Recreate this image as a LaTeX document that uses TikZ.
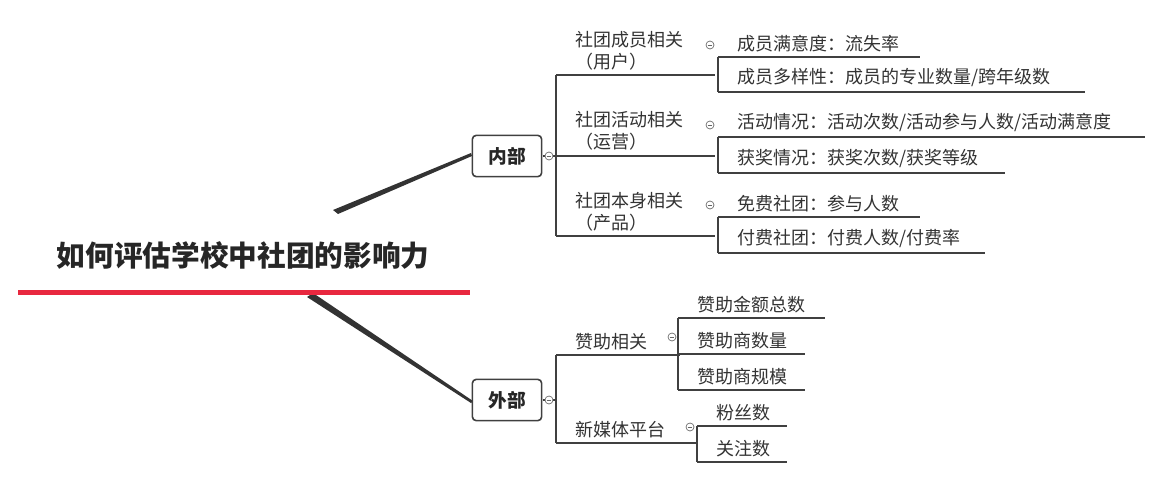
\documentclass[tikz,border=0pt]{standalone}
\usepackage{fontspec}
\setmainfont{Noto Sans CJK SC}
\definecolor{rootred}{HTML}{E8283F}
\begin{document}
\begin{tikzpicture}[x=0.75pt,y=-0.75pt,
  lf/.style={anchor=south west,inner sep=0pt,font=\fontsize{13.5}{16}\selectfont,text=black!80},
  ln/.style={draw=black!75,line width=0.8pt},
  dot/.style={circle,draw=black!60,fill=white,inner sep=0pt,minimum size=6pt,line width=0.5pt,
    path picture={\draw[black!60,line width=0.5pt] ([xshift=-1.8pt]path picture bounding box.center) -- ([xshift=1.8pt]path picture bounding box.center);}},
  box/.style={draw=black!75,line width=1.2pt,rounded corners=3pt,minimum width=52pt,minimum height=31pt,font=\fontsize{14}{16}\selectfont\bfseries,text=black!85}]
\useasboundingbox (0,0) rectangle (1163,478);
% root
\fill[black!80] (333,210) -- (338,214) -- (472,156) -- (471,153) -- cycle;
\fill[black!80] (307,297) -- (313,293) -- (473,401) -- (471,403) -- cycle;
\node[anchor=center,inner sep=0pt,font=\fontsize{21.5}{24}\selectfont\bfseries,text=black!85] (root) at (243,255) {如何评估学校中社团的影响力};
\fill[rootred] (18,290) rectangle (470,295);
% level 1
\node[box] (nb) at (507,156) {内部};
\node[box] (wb) at (507,400) {外部};
% 内部 branches
\draw[ln] (556,75) -- (556,236);
\draw[ln] (543,156) -- (715,156);
\draw[ln] (556,75) -- (715,75);
\draw[ln] (556,236) -- (715,236);
\node[dot] (d0) at (549,156) {};
\node[lf,align=left] (c1) at (575,70) {社团成员相关\\（用户）};
\node[lf,align=left] (c2) at (575,150) {社团活动相关\\（运营）};
\node[lf,align=left] (c3) at (575,231) {社团本身相关\\（产品）};
% sub leaves
\foreach \ya/\yb/\ym/\xa/\xb/\ta/\tb/\n in {
  57/92/45/920/1085/{成员满意度：流失率}/{成员多样性：成员的专业数量/跨年级数}/a,
  137/173/125/1145/1005/{活动情况：活动次数/活动参与人数/活动满意度}/{获奖情况：获奖次数/获奖等级}/b,
  217/253/205/920/985/{免费社团：参与人数}/{付费社团：付费人数/付费率}/c}{
  \draw[ln] (718,\ya) -- (718,\yb);
  \draw[ln] (718,\ya) -- (\xa,\ya);
  \draw[ln] (718,\yb) -- (\xb,\yb);
  \node[dot] (e\n) at (710,\ym) {};
  \node[lf] (la\n) at (737,\ya-5) {\ta};
  \node[lf] (lb\n) at (737,\yb-5) {\tb};
}
% 外部
\draw[ln] (556,355) -- (556,443);
\draw[ln] (543,400) -- (556,400);
\draw[ln] (556,355) -- (680,355);
\draw[ln] (556,443) -- (698,443);
\node[dot] (d1) at (549,400) {};
\node[lf] (s1) at (575,350) {赞助相关};
\node[lf] (s2) at (575,438) {新媒体平台};
\draw[ln] (678,318) -- (678,390);
\draw[ln] (678,318) -- (825,318);
\draw[ln] (678,354) -- (805,354);
\draw[ln] (678,390) -- (805,390);
\node[dot] (f1) at (672,337) {};
\node[lf] (t1) at (697,313) {赞助金额总数};
\node[lf] (t2) at (697,349) {赞助商数量};
\node[lf] (t3) at (697,385) {赞助商规模};
\draw[ln] (697,426) -- (697,462);
\draw[ln] (697,426) -- (787,426);
\draw[ln] (697,462) -- (787,462);
\node[dot] (f2) at (690,427) {};
\node[lf] (u1) at (716,421) {粉丝数};
\node[lf] (u2) at (716,457) {关注数};
\end{tikzpicture}
\end{document}
